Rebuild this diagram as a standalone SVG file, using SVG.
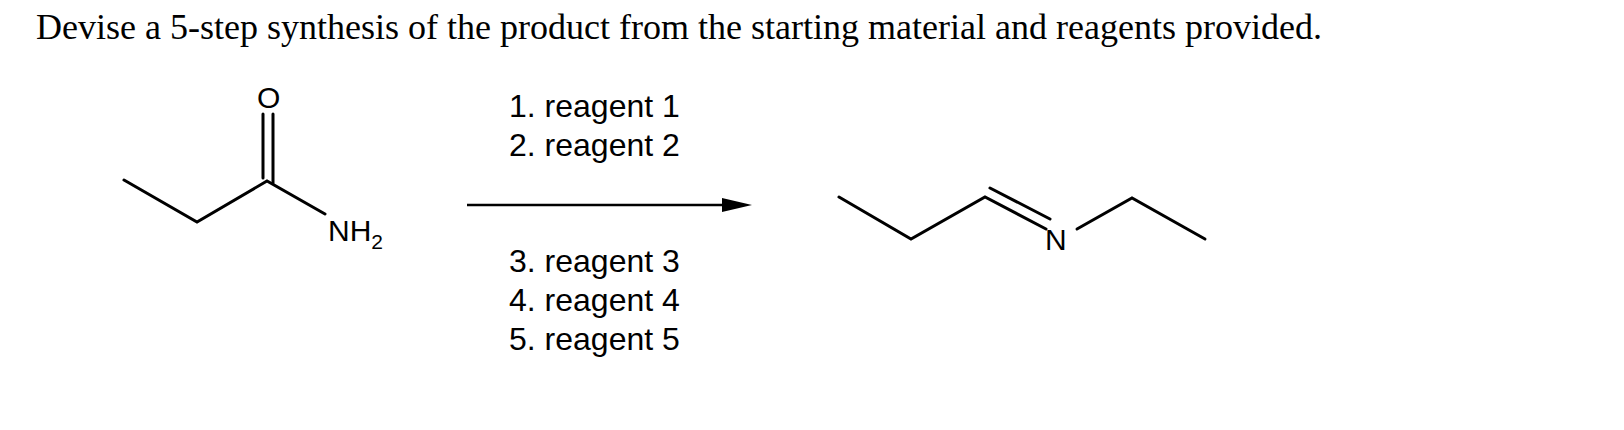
<svg xmlns="http://www.w3.org/2000/svg" width="1624" height="430" viewBox="0 0 1624 430">
<style>
.b{stroke:#000;stroke-width:3;fill:none;stroke-linecap:round}
.t{font-family:"Liberation Sans",Arial,sans-serif;font-size:32px;fill:#000}
.a{font-family:"Liberation Sans",Arial,sans-serif;font-size:30px;fill:#000}
</style>
<rect width="1624" height="430" fill="#fff"/>
<text x="36" y="39" textLength="1286" lengthAdjust="spacingAndGlyphs" style="font-family:'Liberation Serif','Times New Roman',serif;font-size:35px">Devise a 5-step synthesis of the product from the starting material and reagents provided.</text>
<g id="start">
<polyline class="b" points="124,180 197,222 267,181 325,214"/>
<line class="b" x1="263" y1="114" x2="263" y2="178"/>
<line class="b" x1="273" y1="114" x2="273" y2="183"/>
<text class="a" x="257" y="108">O</text>
<text class="a" x="328" y="241">NH<tspan font-size="21" dy="8">2</tspan></text>
</g>
<g id="product">
<polyline class="b" points="839,197 911,239 985,197 1046,229"/>
<line class="b" x1="990" y1="188" x2="1050" y2="219"/>
<polyline class="b" points="1077,229 1132,198 1205,239"/>
<text class="a" x="1045" y="250">N</text>
</g>
<g id="connectors">
<line x1="467" y1="205" x2="735" y2="205" stroke="#000" stroke-width="2.5"/>
<path d="M722,198L752,205L722,212z"/>
</g>
<g id="reagents">
<text class="t" x="509" y="117">1. reagent 1</text>
<text class="t" x="509" y="156">2. reagent 2</text>
<text class="t" x="509" y="272">3. reagent 3</text>
<text class="t" x="509" y="311">4. reagent 4</text>
<text class="t" x="509" y="350">5. reagent 5</text>
</g>
</svg>
